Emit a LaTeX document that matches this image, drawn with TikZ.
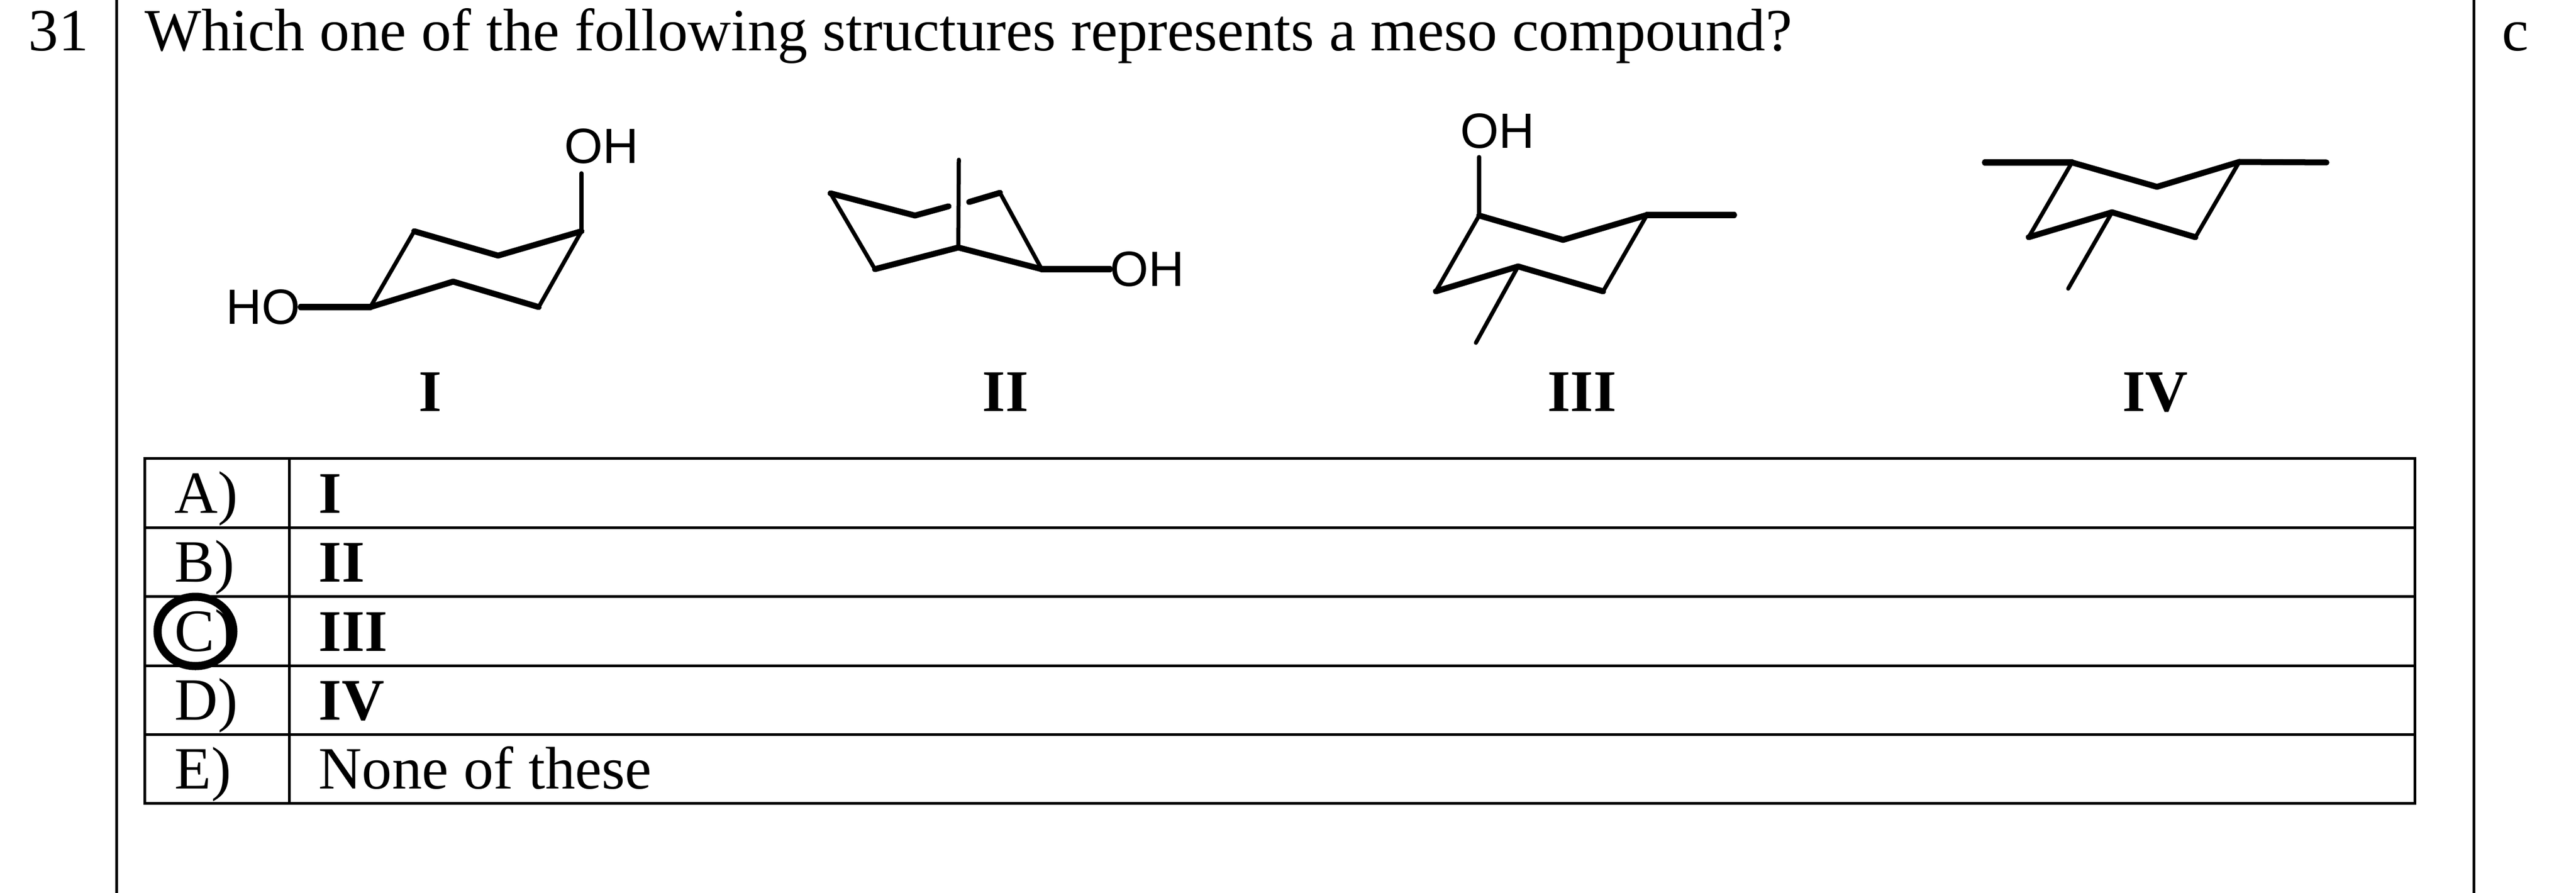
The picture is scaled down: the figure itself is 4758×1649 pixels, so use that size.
\documentclass[tikz,border=0pt]{standalone}
\usepackage{fontspec}
\setmainfont{Liberation Serif}
\newfontfamily\chem{Liberation Sans}
\begin{document}
\begin{tikzpicture}[x=0.01cm,y=-0.01cm,
  thin bond/.style={line width=0.075cm,line cap=round,line join=round},
  thick bond/.style={line width=0.11cm,line cap=round,line join=round},
  grp/.style={font=\chem\fontsize{26}{30}\selectfont,inner sep=0pt},
  txt/.style={font=\fontsize{31.5}{36}\selectfont,inner sep=0pt,anchor=base west},
  btxt/.style={font=\bfseries\fontsize{31}{36}\selectfont,inner sep=0pt,anchor=base west},
  lbl/.style={font=\bfseries\fontsize{31}{36}\selectfont,inner sep=0pt,anchor=base},
  rule/.style={line width=0.05cm}]
\useasboundingbox (0,0) rectangle (4758,1649);
% frame
\draw[rule] (215,0) -- (215,1649);
\draw[rule] (4569,0) -- (4569,1649);
\node[txt] (num) at (52,94) {31};
\node[txt] (q) at (267,94) {Which one of the following structures represents a meso compound?};
\node[txt] (ans) at (4621,94) {c};
% ---- I ----
\coordinate (a1) at (765,427); \coordinate (a2) at (920,472); \coordinate (a3) at (1074,427);
\coordinate (a4) at (995,567); \coordinate (a5) at (837,520); \coordinate (a6) at (684,567);
\draw[thin bond] (a1) -- (a6); \draw[thin bond] (a3) -- (a4);
\draw[thick bond] (a1) -- (a2) -- (a3); \draw[thick bond] (a6) -- (a5) -- (a4);
\node[grp] (oh1) at (1111,270) {OH};
\node[grp] (ho1) at (486,567) {HO};
\draw[thin bond] (a3) -- (1074,320);
\draw[thick bond] (a6) -- (ho1.east) ++(12,0);
\node[lbl] (l1) at (795,759) {I};
% ---- II ----
\coordinate (b1) at (1534,357); \coordinate (b2) at (1690,398); \coordinate (bb) at (1752,381);
\coordinate (bc) at (1790,373); \coordinate (b3) at (1847,356); \coordinate (b4) at (1924,497);
\coordinate (b5) at (1770,457); \coordinate (b6) at (1616,497);
\draw[thick bond] (b1) -- (b2) -- (bb); \draw[thick bond] (bc) -- (b3);
\draw[thin bond] (b3) -- (b4); \draw[thin bond] (b1) -- (b6);
\draw[thick bond] (b6) -- (b5) -- (b4);
\draw[thin bond] (b5) -- (1771,295);
\node[grp,anchor=west] (oh2) at (2050,497) {OH};
\draw[thick bond] (b4) -- (oh2.west);
\node[lbl] (l2) at (1857,759) {II};
% ---- III ----
\coordinate (c1) at (2732,398); \coordinate (c2) at (2887,443); \coordinate (c3) at (3042,397);
\coordinate (c4) at (2961,538); \coordinate (c5) at (2804,492); \coordinate (c6) at (2652,538);
\draw[thin bond] (c1) -- (c6); \draw[thin bond] (c3) -- (c4);
\draw[thick bond] (c1) -- (c2) -- (c3); \draw[thick bond] (c6) -- (c5) -- (c4);
\node[grp] (oh3) at (2766,242) {OH};
\draw[thin bond] (c1) -- (2732,290);
\draw[thick bond] (c3) -- (3203,397);
\draw[thin bond] (c5) -- (2726,633);
\node[lbl] (l3) at (2922,759) {III};
% ---- IV ----
\coordinate (d1) at (3827,300); \coordinate (d2) at (3984,345); \coordinate (d3) at (4136,299);
\coordinate (d4) at (4055,438); \coordinate (d5) at (3901,392); \coordinate (d6) at (3747,438);
\draw[thin bond] (d1) -- (d6); \draw[thin bond] (d3) -- (d4);
\draw[thick bond] (d1) -- (d2) -- (d3); \draw[thick bond] (d6) -- (d5) -- (d4);
\draw[thick bond] (3666,300) -- (d1); \draw[thick bond] (d3) -- (4297,300);
\draw[thin bond] (d5) -- (3820,533);
\node[lbl] (l4) at (3981,759) {IV};
% ---- table ----
\draw[rule] (267,846) rectangle (4460,1483);
\foreach \y in {974,1101,1229,1356} \draw[rule] (267,\y) -- (4460,\y);
\draw[rule] (534,846) -- (534,1483);
\node[txt] (ra) at (322,947) {A)};
\node[txt] (rb) at (322,1074) {B)};
\node[txt] (rc) at (322,1202) {C)};
\node[txt] (rd) at (322,1329) {D)};
\node[txt] (re) at (322,1456) {E)};
\node[btxt] (ta) at (588,947) {I};
\node[btxt] (tb) at (588,1074) {II};
\node[btxt] (tc) at (588,1202) {III};
\node[btxt] (td) at (588,1329) {IV};
\node[txt] (te) at (588,1456) {None of these};
\draw[line width=0.15cm] (361,1166) ellipse [x radius=70,y radius=64];
\end{tikzpicture}
\end{document}
